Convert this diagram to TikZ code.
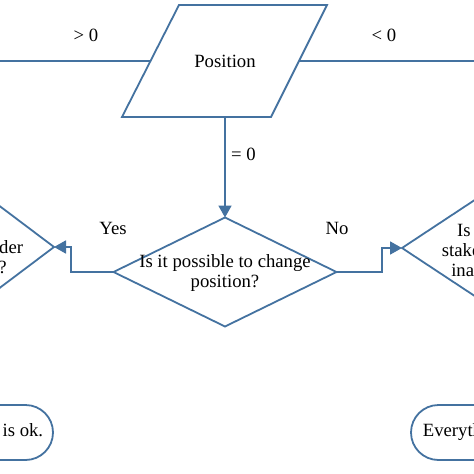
\documentclass[tikz,border=0pt]{standalone}
\usepackage{fontspec}
\setmainfont{Liberation Serif}
\usetikzlibrary{arrows.meta}
\definecolor{fc}{RGB}{68,114,160}
\begin{document}
\begin{tikzpicture}[x=1pt,y=-1pt,
  line/.style={draw=fc,line width=1.8pt,line join=miter},
  arr/.style={line,-{Triangle[length=12pt,width=13pt]}},
  lbl/.style={font=\fontsize{18.7}{20}\selectfont,inner sep=0pt,align=center,text=black}]
\useasboundingbox (0,0) rectangle (474,474);
\fill[white] (0,0) rectangle (474,474);
\clip (0,0) rectangle (474,474);
% parallelogram
\draw[line] (179,5) -- (327,5) -- (271,117) -- (122,117) -- cycle;
\node[lbl] (pos) at (225,61) {Position};
\coordinate (pL) at (150.5,61);
\coordinate (pR) at (299,61);
\coordinate (pB) at (225,117);
\coordinate (eL) at (-5,61);
\coordinate (eR) at (480,61);
\draw[line] (pL) -- (eL);
\draw[line] (pR) -- (eR);
\node[lbl] (gt) at (86,35) {> 0};
\node[lbl] (lt) at (384,35) {< 0};
% centre diamond
\coordinate (dT) at (225,217.5);
\coordinate (dL) at (113.5,272);
\coordinate (dR) at (336.5,272);
\coordinate (dB) at (225,326.5);
\draw[line] (dT) -- (dR) -- (dB) -- (dL) -- cycle;
\node[lbl] (q) at (225,273) {Is it possible to change\\position?};
\draw[arr] (pB) -- (dT);
\node[lbl] (eq) at (243.5,154) {= 0};
% left diamond
\coordinate (lR) at (54,247);
\draw[line] (lR) -- (-19,192) -- (-92,247) -- (-19,302) -- cycle;
\node[lbl] (lq) at (-20,248) {Is a\\stakeholder\\to sell?};
\draw[arr] (dL) -- (71,272) -- (71,247) -- (lR);
\node[lbl] (yes) at (113,228) {Yes};
% right diamond
\coordinate (rL) at (402,248);
\draw[line] (rL) -- (480,196.5) -- (558,248) -- (480,299.5) -- cycle;
\node[lbl] (rq) at (485,250) {Is there\\stakeholder\\inactive?};
\draw[arr] (dR) -- (382,272) -- (382,248) -- (rL);
\node[lbl] (no) at (337,228) {No};
% terminals
\draw[line,rounded corners=27.5pt] (-95,405) rectangle (53,460);
\node[lbl] (ok1) at (-21,432.5) {Everything is ok.};
\draw[line,rounded corners=27.5pt] (411,405) rectangle (560,460);
\node[lbl] (ok2) at (487,432.5) {Everything is ok.};
\end{tikzpicture}
\end{document}
